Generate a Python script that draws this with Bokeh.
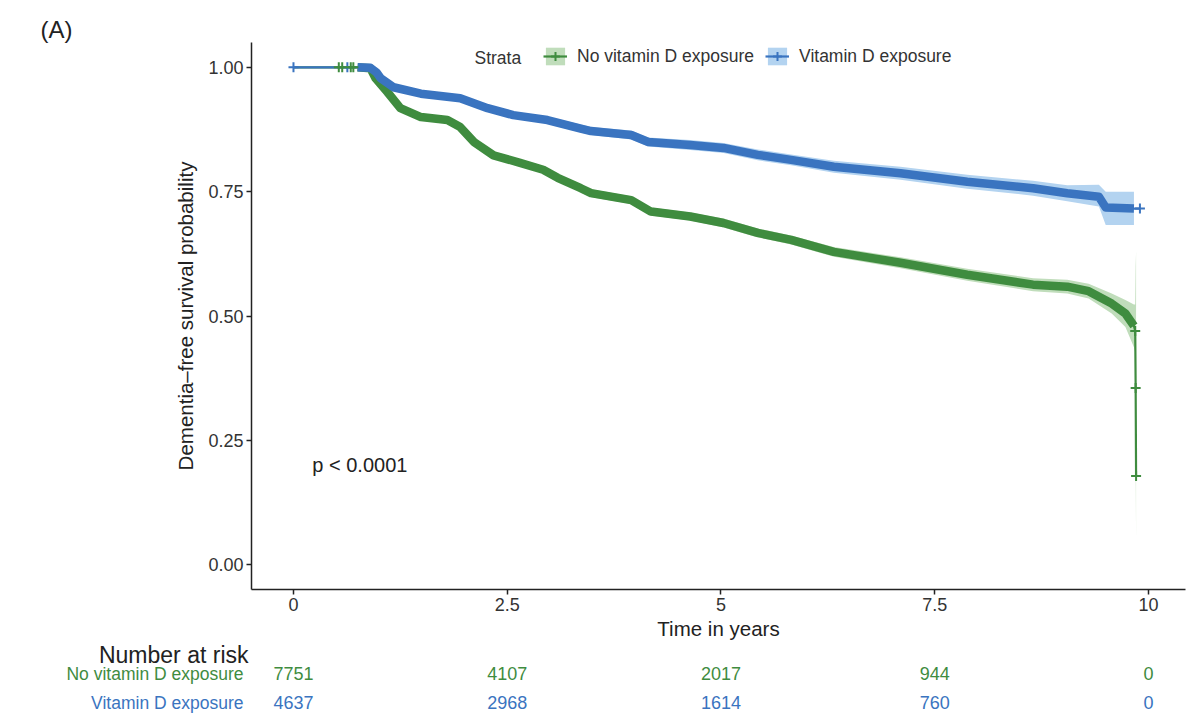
from bokeh.plotting import figure
from bokeh.models import Range1d, FixedTicker, Legend, LegendItem, Label
from bokeh.layouts import column
from bokeh.embed import file_html
from bokeh.resources import INLINE
from bokeh.core.properties import value

FONT = "Liberation Sans"
GREEN = "#3F8C3F"
BLUE = "#3A74C0"
GREEN_BAND = "#C0DDBB"
BLUE_BAND = "#B3D3F0"
TXT = "#333333"

groups = ["No vitamin D exposure", "Vitamin D exposure"]

# ---- Kaplan-Meier estimates (time in years) ----
no_vitd_time = [0.0, 0.53, 0.75, 0.90, 0.96, 1.10, 1.25, 1.49, 1.80, 1.95, 2.11, 2.34,
                2.65, 2.92, 3.09, 3.36, 3.48, 3.95, 4.18, 4.64, 5.03, 5.43, 5.82, 6.32,
                7.10, 7.88, 8.65, 9.05, 9.30, 9.57, 9.73, 9.83, 9.845, 9.85, 9.855]
no_vitd_surv = [1.0, 1.0, 1.0, 0.998, 0.978, 0.95, 0.918, 0.90, 0.894, 0.88, 0.85, 0.823,
                0.808, 0.794, 0.778, 0.757, 0.747, 0.733, 0.71, 0.70, 0.687, 0.667, 0.653, 0.629,
                0.607, 0.583, 0.563, 0.559, 0.55, 0.525, 0.505, 0.48, 0.47, 0.355, 0.178]
no_vitd_lower = [1.0, 1.0, 1.0, 0.997, 0.975, 0.946, 0.913, 0.895, 0.888, 0.874, 0.844, 0.816,
                 0.801, 0.787, 0.771, 0.749, 0.739, 0.725, 0.702, 0.692, 0.678, 0.658, 0.644, 0.619,
                 0.596, 0.571, 0.550, 0.545, 0.535, 0.505, 0.478, 0.437, 0.427, 0.20, 0.046]
no_vitd_upper = [1.0, 1.0, 1.0, 0.999, 0.981, 0.954, 0.923, 0.905, 0.900, 0.886, 0.856, 0.830,
                 0.815, 0.801, 0.785, 0.765, 0.755, 0.741, 0.718, 0.708, 0.696, 0.676, 0.662, 0.639,
                 0.618, 0.595, 0.576, 0.573, 0.565, 0.545, 0.532, 0.523, 0.523, 0.60, 0.63]

vitd_time = [0.0, 0.75, 0.90, 0.97, 1.02, 1.17, 1.49, 1.95, 2.27, 2.57, 2.97, 3.36, 3.48,
             3.95, 4.15, 4.64, 5.03, 5.43, 5.82, 6.32, 7.10, 7.88, 8.65, 9.05, 9.42, 9.50,
             9.83, 9.90]
vitd_surv = [1.0, 1.0, 0.999, 0.99, 0.978, 0.96, 0.947, 0.938, 0.918, 0.904, 0.894, 0.877, 0.872,
             0.864, 0.85, 0.844, 0.838, 0.824, 0.814, 0.80, 0.787, 0.77, 0.757, 0.747, 0.74, 0.718,
             0.716, 0.716]
# confidence band ends at the last event time (one point shorter than the curve)
vitd_lower = [1.0, 1.0, 0.998, 0.988, 0.975, 0.956, 0.942, 0.932, 0.912, 0.897, 0.887, 0.869, 0.864,
              0.855, 0.841, 0.834, 0.828, 0.813, 0.803, 0.788, 0.774, 0.756, 0.742, 0.731, 0.720, 0.683,
              0.683]
vitd_upper = [1.0, 1.0, 1.0, 0.992, 0.981, 0.964, 0.952, 0.944, 0.924, 0.911, 0.901, 0.885, 0.880,
              0.873, 0.859, 0.854, 0.848, 0.835, 0.825, 0.812, 0.800, 0.784, 0.772, 0.763, 0.764, 0.750,
              0.750]

# isolated censoring marks that are visible as separate "+"
no_vitd_censor_time = [0.53, 0.57, 0.67, 0.70, 9.845, 9.85, 9.855]
no_vitd_censor_surv = [1.0, 1.0, 1.0, 1.0, 0.47, 0.355, 0.178]
vitd_censor_time = [0.0, 0.63, 9.90]
vitd_censor_surv = [1.0, 1.0, 0.716]

# dense-censoring stretch (drawn as a thick band of "+" marks)
dense_start = 0.72
dense_end = 9.83

# ---- axes ----
x_ticks = [0, 2.5, 5, 7.5, 10]
x_tick_labels = ["0", "2.5", "5", "7.5", "10"]
y_ticks = [0, 0.25, 0.5, 0.75, 1.0]
y_tick_labels = ["0.00", "0.25", "0.50", "0.75", "1.00"]

# ---- number at risk ----
risk_times = [0, 2.5, 5, 7.5, 10]
no_vitd_risk = [7751, 4107, 2017, 944, 0]
vitd_risk = [4637, 2968, 1614, 760, 0]

# ---- layout geometry ----
LEFT = 251
FRAME_W = 934
RIGHT = 5
X0, X1 = -0.491, 10.433
x_range = Range1d(X0, X1)
px_per_year = FRAME_W / (X1 - X0)

p = figure(frame_width=FRAME_W, frame_height=547, min_border_left=LEFT, min_border_right=RIGHT,
           min_border_top=42, min_border_bottom=50, x_range=x_range, y_range=Range1d(-0.05, 1.05),
           output_backend="svg", toolbar_location=None, background_fill_color="white",
           border_fill_color="white")
p.frame_align = False
p.outline_line_color = None
p.grid.visible = False

p.title.text = "(A)"
p.title.align = "left"
p.title.offset = 40 - LEFT
p.title.standoff = 0
p.title.text_font = FONT
p.title.text_font_size = "24px"
p.title.text_font_style = "normal"
p.title.text_color = "#222222"

# bands
g_band = p.varea(x=no_vitd_time, y1=no_vitd_lower, y2=no_vitd_upper, fill_color=GREEN_BAND)
b_band = p.varea(x=vitd_time[:len(vitd_lower)], y1=vitd_lower, y2=vitd_upper, fill_color=BLUE_BAND)


def dense(t, s):
    xs, ys = [], []
    for a, b in zip(t, s):
        if dense_start <= a <= dense_end:
            xs.append(a)
            ys.append(b)
    return xs, ys


gx, gy = dense(no_vitd_time, no_vitd_surv)
bx, by = dense(vitd_time, vitd_surv)

g_line = p.line(no_vitd_time, no_vitd_surv, line_color=GREEN, line_width=2.2)
p.line(gx, gy, line_color=GREEN, line_width=8.5, line_join="round", line_cap="butt")
b_line = p.line(vitd_time, vitd_surv, line_color=BLUE, line_width=2.2)
p.line(bx, by, line_color=BLUE, line_width=8.5, line_join="round", line_cap="butt")

b_cens = p.scatter(vitd_censor_time, vitd_censor_surv, marker="cross", size=10,
                   line_color=BLUE, line_width=2)
g_cens = p.scatter(no_vitd_censor_time, no_vitd_censor_surv, marker="cross", size=10,
                   line_color=GREEN, line_width=2)

# axes styling
for ax in (p.xaxis[0], p.yaxis[0]):
    ax.axis_line_color = "#222222"
    ax.axis_line_width = 1.5
    ax.major_tick_line_color = "#222222"
    ax.major_tick_line_width = 1.5
    ax.major_tick_in = 0
    ax.major_tick_out = 5
    ax.minor_tick_line_color = None
    ax.major_label_text_font = FONT
    ax.major_label_text_font_size = "18px"
    ax.major_label_text_color = TXT
    ax.axis_label_text_font = FONT
    ax.axis_label_text_font_size = "20.5px"
    ax.axis_label_text_font_style = "normal"
    ax.axis_label_text_color = "#222222"

p.xaxis.ticker = FixedTicker(ticks=x_ticks)
p.xaxis.major_label_overrides = dict(zip(x_ticks, x_tick_labels))
p.yaxis.ticker = FixedTicker(ticks=y_ticks)
p.yaxis.major_label_overrides = dict(zip(y_ticks, y_tick_labels))
p.xaxis.axis_label = "Time in years"
p.yaxis.axis_label = "Dementia–free survival probability"
p.xaxis.major_label_standoff = 3
p.yaxis.major_label_standoff = 3
p.xaxis.axis_label_standoff = 3
p.yaxis.axis_label_standoff = 8

legend = Legend(items=[LegendItem(label=groups[0], renderers=[g_band, g_line, g_cens]),
                       LegendItem(label=groups[1], renderers=[b_band, b_line, b_cens])],
                orientation="horizontal", location=(292, 522), padding=0, margin=0,
                spacing=11, glyph_width=24, glyph_height=22, label_standoff=10,
                label_text_font=FONT, label_text_font_size="17.5px", label_text_color=TXT,
                border_line_color=None, background_fill_alpha=0)
p.add_layout(legend)

p.add_layout(Label(x=223, y=532, x_units="screen", y_units="screen", text="Strata",
                   text_font=FONT, text_font_size="17.5px", text_color=TXT,
                   text_baseline="middle", text_align="left"))
p.add_layout(Label(x=0.22, y=0.2, text="p < 0.0001", text_font=FONT, text_font_size="20px",
                   text_color="#222222", text_baseline="middle", text_align="left"))

# ---- risk table: its frame spans the full width, same years-per-pixel scale ----
RISK_H = 76
r_range = Range1d(X0 - LEFT / px_per_year, X1)
# rows 1 and 2 are 29 px apart; row 1 sits 31 px below the table's top
row_px = 29
r_top = 1 - 31 / row_px
r_bottom = r_top + RISK_H / row_px
r = figure(frame_width=LEFT + FRAME_W, frame_height=RISK_H, min_border_left=0,
           min_border_right=RIGHT, min_border_top=0, min_border_bottom=0, x_range=r_range,
           y_range=Range1d(r_bottom, r_top), output_backend="svg", toolbar_location=None)
r.frame_align = False
r.outline_line_color = None
r.grid.visible = False
r.axis.visible = False

rows = [(no_vitd_risk, GREEN, 1), (vitd_risk, BLUE, 2)]
for counts, col, row in rows:
    r.text(x=risk_times, y=[row] * len(risk_times), text=[str(c) for c in counts],
           text_align="center", text_baseline="middle", text_font=value(FONT),
           text_font_size="18px", text_color=col)
for name, (counts, col, row) in zip(groups, rows):
    r.add_layout(Label(x=243, y=row, x_units="screen", y_units="data", text=name,
                       text_font=FONT, text_font_size="17.5px", text_color=col,
                       text_baseline="middle", text_align="right"))
r.add_layout(Label(x=248, y=r_top + 12 / row_px, x_units="screen", y_units="data",
                   text="Number at risk", text_font=FONT, text_font_size="23px",
                   text_color="#222222", text_baseline="middle", text_align="right"))

layout = column(p, r, spacing=0)
open("out.html", "w").write(file_html(layout, INLINE))
